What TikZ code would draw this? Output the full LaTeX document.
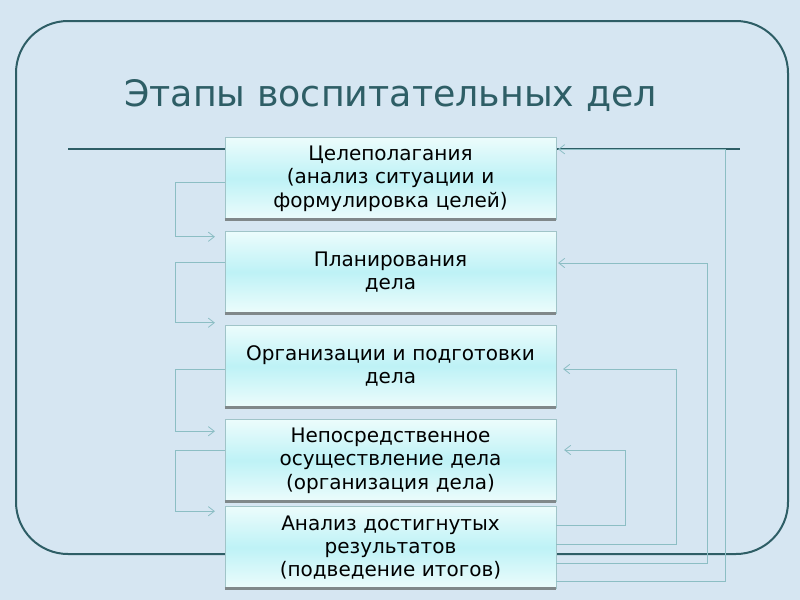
\documentclass[tikz,border=0pt]{standalone}
\usepackage{fontspec}
\setmainfont{DejaVu Sans}
\usepackage{tikz}
\usetikzlibrary{arrows.meta}
\usetikzlibrary{calc}
\definecolor{bgblue}{RGB}{214,230,242}
\definecolor{frameteal}{RGB}{46,94,102}
\definecolor{boxmid}{RGB}{190,242,246}
\definecolor{boxedge}{RGB}{236,252,252}
\definecolor{boxline}{RGB}{160,196,200}
\definecolor{shadowgrey}{RGB}{128,136,138}
\definecolor{linkteal}{RGB}{140,190,196}
\tikzset{
  stage/.style={draw=boxline,top color=boxedge,bottom color=boxedge,middle color=boxmid,
    minimum width=248pt,minimum height=61.5pt,text width=244pt,align=center,inner sep=0pt,
    font=\fontsize{15}{17.5}\selectfont},
  link/.style={draw=linkteal,line width=0.6pt,->},
  underline/.style={draw=shadowgrey,line width=2pt}
}

\begin{document}
\begin{tikzpicture}[x=0.75pt,y=-0.75pt,>/.tip={Straight Barb[length=4.5pt,width=7pt]}]
	\fill[bgblue] (0,0) rectangle (800,600);
	\useasboundingbox (0,0) rectangle (800,600);
	\draw[frameteal,line width=1.5pt,rounded corners=39pt] (16,21) rectangle (788,554);
	\draw[frameteal,line width=2.2pt] (68,149) -- (740,149);
	\node (title) [anchor=base,text=frameteal,font=\fontsize{27.3}{32}\selectfont] at (390.5,106) {Этапы воспитательных дел};
	\draw (390.5,178.5) node(S1) [stage] {Целеполагания\\(анализ ситуации и\\формулировка целей)};
	\draw (390.5,272) node(S2) [stage] {Планирования\\дела};
	\draw (390.5,366) node(S3) [stage] {Организации и подготовки\\дела};
	\draw (390.5,460.5) node(S4) [stage] {Непосредственное\\осуществление дела\\(организация дела)};
	\draw (390.5,547.5) node(S5) [stage] {Анализ достигнутых\\результатов\\(подведение итогов)};
	\foreach \s in {S1,S2,S3,S4,S5}
		\draw[underline] (\s.south west) -- (\s.south east);
	% forward links on the left
	\draw[link] ($(S1.west)+(0,3.5)$) -- ++(-50,0) |- ($(S2.north west)+(-10,6)$);
	\draw[link] ($(S2.west)+(0,-10)$) -- ++(-50,0) |- ($(S3.north west)+(-10,-2)$);
	\draw[link] ($(S3.west)+(0,3)$) -- ++(-50,0) |- ($(S4.north west)+(-10,12)$);
	\draw[link] ($(S4.west)+(0,-10.5)$) -- ++(-50,0) |- ($(S5.north west)+(-10,5)$);
	% feedback links on the right
	\draw[link] ($(S5.east)+(0,-22.5)$) -- ++(69,0) |- ($(S4.east)+(8,-10.5)$);
	\draw[link] ($(S5.east)+(0,-3.5)$) -- ++(120,0) |- ($(S3.east)+(7,3)$);
	\draw[link] ($(S5.east)+(0,15.5)$) -- ++(151,0) |- ($(S2.east)+(2,-9)$);
	\draw[link] ($(S5.east)+(0,33.5)$) -- ++(169,0) |- ($(S1.north east)+(2,12)$);
\end{tikzpicture}
\end{document}
